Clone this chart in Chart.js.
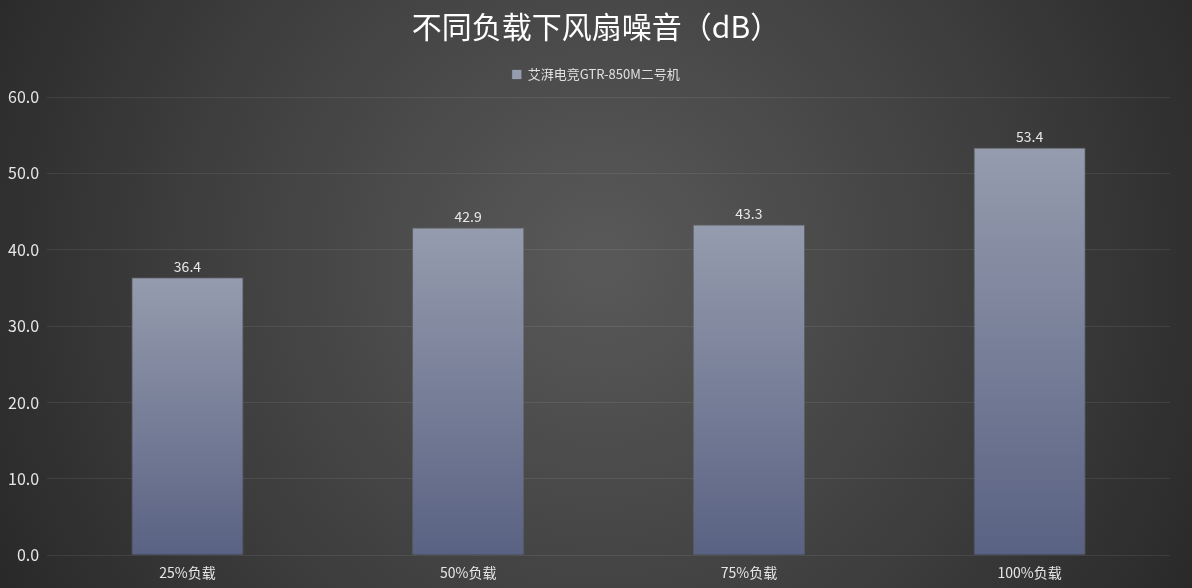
<!DOCTYPE html>
<html>
<head>
<meta charset="utf-8">
<script src="https://cdn.jsdelivr.net/npm/chart.js@4.4.0/dist/chart.umd.min.js"></script>
<style>
    html, body { margin: 0; padding: 0; background: #3a3a3a; }
    #wrap { width: 1192px; height: 588px; position: relative; }
</style>
</head>
<body>
<div id="wrap"><canvas id="noiseChart"></canvas></div>
<script>
const categories = ['25%负载', '50%负载', '75%负载', '100%负载'];
const seriesName = '艾湃电竞GTR-850M二号机';
const noiseValues = [36.4, 42.9, 43.3, 53.4];
const yTicks = [0, 10, 20, 30, 40, 50, 60];

const fontFamily = '"Noto Sans CJK SC", "Noto Sans", sans-serif';

// dark radial backdrop
const backdrop = {
    id: 'backdrop',
    beforeDraw(chart) {
        const c = chart.ctx;
        const w = chart.width, h = chart.height;
        c.save();
        const g = c.createRadialGradient(600, 260, 20, 600, 260, 720);
        g.addColorStop(0, '#585858');
        g.addColorStop(0.55, '#3e3e3e');
        g.addColorStop(1, '#262626');
        c.fillStyle = g;
        c.fillRect(0, 0, w, h);
        c.restore();
    }
};

// a bit more room under the legend
const legendGap = {
    id: 'legendGap',
    beforeInit(chart) {
        const origFit = chart.legend.fit;
        chart.legend.fit = function () {
            origFit.bind(chart.legend)();
            this.height += 6;
        };
    }
};

// value labels above the bars
const barLabels = {
    id: 'barLabels',
    afterDatasetsDraw(chart) {
        const c = chart.ctx;
        const meta = chart.getDatasetMeta(0);
        c.save();
        c.font = '14px ' + fontFamily;
        c.fillStyle = '#e8e8e8';
        c.textAlign = 'center';
        c.textBaseline = 'bottom';
        meta.data.forEach(function (bar, i) {
            c.fillText(noiseValues[i].toFixed(1), bar.x, bar.y - 4);
        });
        c.restore();
    }
};

function barFill(context) {
    const chart = context.chart;
    if (!chart.chartArea || context.type !== 'data') return '#7d849c';
    const y = chart.scales.y;
    const top = y.getPixelForValue(context.parsed.y);
    const bottom = y.getPixelForValue(0);
    const g = chart.ctx.createLinearGradient(0, top, 0, bottom);
    g.addColorStop(0, '#959cae');
    g.addColorStop(1, '#5a6283');
    return g;
}

new Chart(document.getElementById('noiseChart'), {
    type: 'bar',
    data: {
        labels: categories,
        datasets: [{
            label: seriesName,
            data: noiseValues,
            backgroundColor: barFill,
            borderColor: 'rgba(190,196,214,0.18)',
            borderWidth: 1,
            barPercentage: 0.4,
            categoryPercentage: 1.0
        }]
    },
    options: {
        responsive: true,
        maintainAspectRatio: false,
        animation: false,
        layout: { padding: { left: 0, right: 0, top: 5, bottom: 6 } },
        plugins: {
            title: {
                display: true,
                text: '不同负载下风扇噪音（dB）',
                color: '#ffffff',
                font: { family: fontFamily, size: 30, weight: 'normal' },
                padding: { top: 4, bottom: 13 }
            },
            legend: {
                display: true,
                position: 'top',
                labels: {
                    color: '#e0e0e0',
                    font: { family: fontFamily, size: 13 },
                    boxWidth: 9,
                    boxHeight: 9,
                    padding: 10
                }
            },
            tooltip: { enabled: false }
        },
        scales: {
            x: {
                grid: { display: false },
                border: { display: false },
                ticks: {
                    color: '#e6e6e6',
                    font: { family: fontFamily, size: 14 },
                    padding: 1
                }
            },
            y: {
                min: yTicks[0],
                max: yTicks[yTicks.length - 1],
                afterBuildTicks(axis) {
                    axis.ticks = yTicks.map(function (v) { return { value: v }; });
                },
                grid: { color: 'rgba(255,255,255,0.08)', drawTicks: false },
                border: { display: false },
                ticks: {
                    color: '#e6e6e6',
                    font: { family: fontFamily, size: 16 },
                    padding: 8,
                    callback: function (v) { return Number(v).toFixed(1); }
                }
            },
            // empty right-hand spacer so the title stays centred on the page
            spacer: {
                type: 'linear',
                position: 'right',
                grid: { display: false },
                border: { display: false },
                ticks: { display: false },
                afterFit(axis) {
                    axis.width = 22;
                }
            }
        }
    },
    plugins: [backdrop, legendGap, barLabels]
});
</script>
</body>
</html>
